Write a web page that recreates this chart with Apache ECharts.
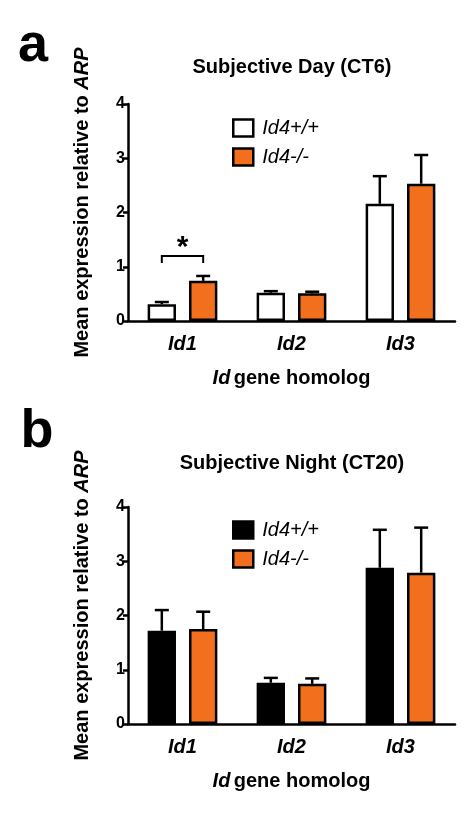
<!DOCTYPE html>
<html>
<head>
<meta charset="utf-8">
<title>Id gene expression, CT6 / CT20</title>
<script src="https://cdn.jsdelivr.net/npm/echarts@6.0.0/dist/echarts.min.js"></script>
<style>
  html, body { margin: 0; padding: 0; background: #fff; }
  #main { width: 474px; height: 816px; }
</style>
</head>
<body>
<div id="main"></div>
<script>
// data
var categories = ['Id1', 'Id2', 'Id3'];
var legendLabels = ['Id4+/+', 'Id4-/-'];

var dayWtMean = [0.31, 0.52, 2.16];
var dayWtSem  = [0.04, 0.03, 0.51];
var dayKoMean = [0.74, 0.51, 2.53];
var dayKoSem  = [0.09, 0.03, 0.53];

var nightWtMean = [1.72, 0.76, 2.88];
var nightWtSem  = [0.38, 0.09, 0.70];
var nightKoMean = [1.75, 0.74, 2.79];
var nightKoSem  = [0.32, 0.10, 0.83];

// significance bracket in panel a: [category, leg bottom, bracket top, star]
var sigMarks = [[0, 1.07, 1.20, 1.45]];

var FONT = '"Liberation Sans", Arial, Helvetica, sans-serif';
var ORANGE = '#F26F1E';
var BAR_W = 0.26;      // share of the category band
var BAR_GAP = 0.46;    // share of bar width
var OFFSET = (BAR_W + BAR_W * BAR_GAP) / 2;

var myChart = echarts.init(document.getElementById('main'));

var names = {
    dayWt: legendLabels[0], dayKo: legendLabels[1],
    nightWt: legendLabels[0], nightKo: legendLabels[1]
};

function barSeries(name, idx, values, fill) {
    return {
        name: name,
        type: 'bar',
        xAxisIndex: idx,
        yAxisIndex: idx,
        barWidth: (BAR_W * 100) + '%',
        barGap: (BAR_GAP * 100) + '%',
        itemStyle: { color: fill, borderColor: '#000', borderWidth: 2.5 },
        data: values,
        z: 2
    };
}

function errSeries(idx, means, sems, side) {
    var data = means.map(function (m, i) { return [i, m, m + sems[i]]; });
    return {
        type: 'custom',
        xAxisIndex: idx,
        yAxisIndex: idx,
        silent: true,
        z: 3,
        renderItem: function (params, api) {
            var band = api.size([1, 0])[0];
            var base = api.coord([api.value(0), api.value(1)]);
            var top = api.coord([api.value(0), api.value(2)]);
            var x = base[0] + side * OFFSET * band;
            var cap = 7;
            return {
                type: 'group',
                children: [
                    { type: 'line', shape: { x1: x, y1: base[1], x2: x, y2: top[1] },
                      style: { stroke: '#000', lineWidth: 2.5 } },
                    { type: 'line', shape: { x1: x - cap, y1: top[1], x2: x + cap, y2: top[1] },
                      style: { stroke: '#000', lineWidth: 2.5 } }
                ]
            };
        },
        data: data
    };
}

function makeXAxis(idx) {
    return {
        type: 'category',
        gridIndex: idx,
        data: categories,
        axisLine: { lineStyle: { color: '#000', width: 2.5 } },
        axisTick: { alignWithLabel: true, length: 6, lineStyle: { color: '#000', width: 2.5 } },
        axisLabel: { color: '#000', fontFamily: FONT, fontSize: 20, fontWeight: 'bold',
                     fontStyle: 'italic', margin: 13 },
        name: '{i|Id} {n|gene homolog}',
        nameLocation: 'middle',
        nameGap: 47,
        nameTextStyle: {
            rich: {
                i: { fontFamily: FONT, fontSize: 20, fontWeight: 'bold', fontStyle: 'italic', color: '#000' },
                n: { fontFamily: FONT, fontSize: 20, fontWeight: 'bold', color: '#000' }
            }
        }
    };
}

function makeYAxis(idx) {
    return {
        type: 'value',
        gridIndex: idx,
        min: 0,
        max: 4,
        interval: 1,
        splitLine: { show: false },
        axisLine: { show: true, lineStyle: { color: '#000', width: 2.5 } },
        axisTick: { show: true, length: 5, lineStyle: { color: '#000', width: 2.5 } },
        axisLabel: { color: '#000', fontFamily: FONT, fontSize: 16, fontWeight: 'bold', margin: 3 },
        name: '{n|Mean expression relative to }{i|ARP}',
        nameLocation: 'middle',
        nameRotate: 90,
        nameGap: 36,
        nameTextStyle: {
            padding: [0, 0, 0, 20],
            rich: {
                i: { fontFamily: FONT, fontSize: 20, fontWeight: 'bold', fontStyle: 'italic', color: '#000' },
                n: { fontFamily: FONT, fontSize: 20, fontWeight: 'bold', color: '#000' }
            }
        }
    };
}

function makeLegend(top, items) {
    return {
        orient: 'vertical',
        left: 227,
        top: top,
        itemWidth: 20,
        itemHeight: 17,
        itemGap: 9,
        icon: 'rect',
        selectedMode: false,
        itemStyle: { borderColor: '#000', borderWidth: 2.5 },
        textStyle: { color: '#000', fontFamily: FONT, fontSize: 20, fontStyle: 'italic',
                     padding: [0, 0, 0, 4] },
        formatter: function (n) { return names[n]; },
        data: items
    };
}

var bracketSeries = {
    type: 'custom',
    xAxisIndex: 0,
    yAxisIndex: 0,
    silent: true,
    z: 4,
    renderItem: function (params, api) {
        var band = api.size([1, 0])[0];
        var c = api.value(0);
        var legs = api.coord([c, api.value(1)]);
        var top = api.coord([c, api.value(2)]);
        var star = api.coord([c, api.value(3)]);
        var xl = legs[0] - OFFSET * band;
        var xr = legs[0] + OFFSET * band;
        return {
            type: 'group',
            children: [
                { type: 'polyline',
                  shape: { points: [[xl, legs[1]], [xl, top[1]], [xr, top[1]], [xr, legs[1]]] },
                  style: { stroke: '#000', lineWidth: 2, fill: null } },
                { type: 'text', x: star[0], y: star[1] + 5,
                  style: { text: '*', font: 'bold 30px ' + FONT, fill: '#000',
                           align: 'center', verticalAlign: 'middle' } }
            ]
        };
    },
    data: sigMarks
};

var option = {
    animation: false,
    backgroundColor: '#fff',
    graphic: [
        { type: 'text', x: 33, y: 46, style: { text: 'a', font: 'bold 54px ' + FONT, fill: '#000',
          align: 'center', verticalAlign: 'middle' } },
        { type: 'text', x: 37, y: 432, style: { text: 'b', font: 'bold 54px ' + FONT, fill: '#000',
          align: 'center', verticalAlign: 'middle' } },
        { type: 'text', x: 292, y: 67, style: { text: 'Subjective Day (CT6)', font: 'bold 20px ' + FONT,
          fill: '#000', align: 'center', verticalAlign: 'middle' } },
        { type: 'text', x: 292, y: 463, style: { text: 'Subjective Night (CT20)', font: 'bold 20px ' + FONT,
          fill: '#000', align: 'center', verticalAlign: 'middle' } }
    ],
    legend: [
        makeLegend(113, ['dayWt', 'dayKo']),
        makeLegend(515, ['nightWt', 'nightKo'])
    ],
    grid: [
        { left: 128, right: 19, top: 104, height: 217 },
        { left: 128, right: 19, top: 507, height: 217 }
    ],
    xAxis: [makeXAxis(0), makeXAxis(1)],
    yAxis: [makeYAxis(0), makeYAxis(1)],
    series: [
        barSeries('dayWt', 0, dayWtMean, '#fff'),
        barSeries('dayKo', 0, dayKoMean, ORANGE),
        errSeries(0, dayWtMean, dayWtSem, -1),
        errSeries(0, dayKoMean, dayKoSem, 1),
        bracketSeries,
        barSeries('nightWt', 1, nightWtMean, '#000'),
        barSeries('nightKo', 1, nightKoMean, ORANGE),
        errSeries(1, nightWtMean, nightWtSem, -1),
        errSeries(1, nightKoMean, nightKoSem, 1)
    ]
};

myChart.setOption(option);
</script>
</body>
</html>
